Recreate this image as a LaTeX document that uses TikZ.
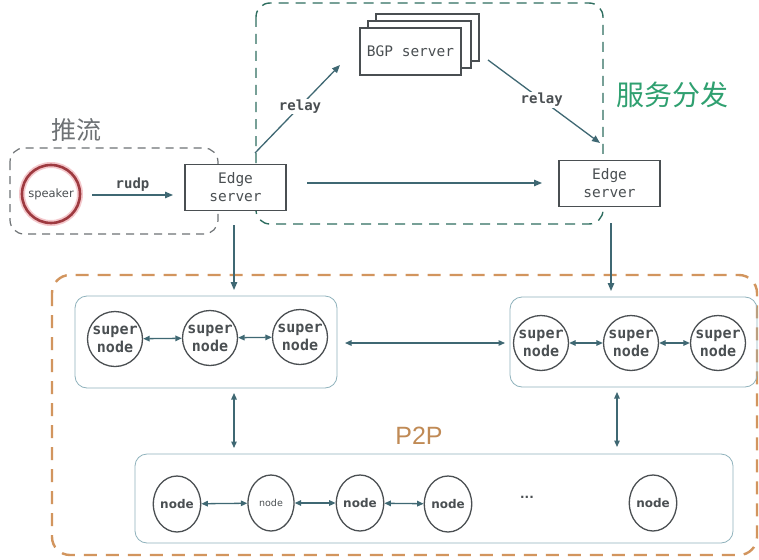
\documentclass[tikz,border=0pt]{standalone}
\usepackage{fontspec}
\setmainfont{DejaVu Sans}
\setmonofont{DejaVu Sans Mono}
\newfontfamily\cjk{Noto Sans CJK SC}
\newfontfamily\arialish{Liberation Sans}
\usetikzlibrary{arrows.meta,shapes.geometric}
\definecolor{dk}{HTML}{4A4F52}
\definecolor{ar}{HTML}{3F6873}
\definecolor{grp}{HTML}{8FB2BC}
\definecolor{grn}{HTML}{2F6E60}
\definecolor{org}{HTML}{D2955E}
\definecolor{p2pc}{HTML}{C08A55}
\definecolor{spk}{HTML}{9E3A40}
\definecolor{glow}{HTML}{F4C8CC}
\definecolor{cjkgreen}{HTML}{2FA070}
\begin{document}
\begin{tikzpicture}[x=1pt,y=-1pt,
  box/.style={draw=dk,line width=1.8pt,fill=white,minimum width=101pt,minimum height=46pt,inner sep=1pt,align=center,font=\ttfamily\fontsize{14.5}{18}\selectfont,text=dk},
  snode/.style={circle,draw=dk,line width=1.3pt,fill=white,minimum size=55pt,inner sep=0pt,align=center,font=\ttfamily\bfseries\fontsize{15}{18}\selectfont,text=dk},
  pnode/.style={ellipse,draw=dk,line width=1.3pt,fill=white,minimum width=46pt,minimum height=56pt,inner sep=0pt,font=\bfseries\fontsize{12}{14}\selectfont,text=dk},
  grpbox/.style={draw=grp,line width=0.8pt,rounded corners=12pt},
  arr/.style={draw=ar,line width=1.3pt,-{Triangle[length=8pt,width=6.5pt]}},
  darr/.style={draw=ar,line width=1.3pt,{Triangle[length=6.5pt,width=5.5pt]}-{Triangle[length=6.5pt,width=5.5pt]}},
  lbl/.style={font=\ttfamily\bfseries\fontsize{14}{16}\selectfont,text=dk}
]
\useasboundingbox (0,0) rectangle (759,559);
\fill[white] (0,0) rectangle (759,559);

% outer dashed areas
\draw[org,line width=2.4pt,dash pattern=on 13pt off 9pt,rounded corners=18pt] (52,275) rectangle (757,555);
\draw[grn,line width=1.4pt,dash pattern=on 10pt off 7pt,rounded corners=14pt] (256,3) rectangle (603,224);
\draw[dk!80,line width=1.2pt,dash pattern=on 8pt off 6pt,rounded corners=14pt] (10,148) rectangle (218,234);

% labels
\node[font=\cjk\fontsize{25}{28}\selectfont,text=dk!80] (tuiliu) at (76,130) {推流};
\node[font=\cjk\fontsize{28}{32}\selectfont,text=cjkgreen] (fuwu) at (672,95) {服务分发};
\node[font=\arialish\fontsize{25}{28}\selectfont,text=p2pc] (p2p) at (419,436) {P2P};

% speaker
\node[circle,draw=glow,line width=6pt,minimum size=58pt,inner sep=0pt] (spkglow) at (51,194) {};
\node[circle,draw=spk,line width=2.6pt,minimum size=58pt,inner sep=0pt,font=\fontsize{11.5}{13}\selectfont,text=dk] (spk) at (51,194) {speaker};

% edge servers
\node[box] (e1) at (235.5,187.5) {Edge\\server};
\node[box] (e2) at (609.5,183.5) {Edge\\server};

% BGP stack
\node[box,minimum height=47pt,minimum width=103pt] (b3) at (427.5,37.5) {};
\node[box,minimum height=47pt,minimum width=103pt] (b2) at (419.5,44.5) {};
\node[box,minimum height=47pt,minimum width=101pt] (bgp) at (410.5,51.5) {BGP server};

% group boxes
\draw[grpbox] (75,296) rectangle (337,388);
\draw[grpbox] (510,297) rectangle (757,387);
\draw[grpbox] (135,454) rectangle (733,543);

% super nodes
\node[snode] (s1) at (115,339) {super\\node};
\node[snode] (s2) at (210,338) {super\\node};
\node[snode] (s3) at (300,337) {super\\node};
\node[snode] (s4) at (541,343) {super\\node};
\node[snode] (s5) at (631,343) {super\\node};
\node[snode] (s6) at (718,343) {super\\node};

% p2p nodes
\node[pnode] (n1) at (177,504) {node};
\node[pnode,font=\fontsize{9.5}{11}\selectfont] (n2) at (271,503) {node};
\node[pnode] (n3) at (360,503) {node};
\node[pnode] (n4) at (448,504) {node};
\node[font=\bfseries\fontsize{12}{14}\selectfont,text=dk] (dots) at (527,497) {...};
\node[pnode] (n5) at (653,503) {node};

% coordinates for free-ended connectors
\coordinate (r1s) at (255,153);
\coordinate (r1e) at (340,65);
\coordinate (r2s) at (488,60);
\coordinate (r2e) at (600,143);
\coordinate (e1e2s) at (307,183);
\coordinate (e1e2e) at (542,183);
\coordinate (d1s) at (234,225);
\coordinate (d1e) at (234,290);
\coordinate (d2s) at (611,223);
\coordinate (d2e) at (611,291);
\coordinate (g1r) at (345,343);
\coordinate (g2l) at (505,343);
\coordinate (v1s) at (234,393);
\coordinate (v1e) at (234,448);
\coordinate (v2s) at (617,392);
\coordinate (v2e) at (617,447);
\coordinate (rudps) at (92,195);
\coordinate (rudpe) at (173,195);

% connectors
\draw[arr] (rudps) -- node[lbl,above=0pt,pos=0.5] (rudp) {rudp} (rudpe);
\draw[arr] (r1s) -- node[lbl,fill=white,inner sep=1pt,pos=0.53] (rl1) {relay} (r1e);
\draw[arr] (r2s) -- node[lbl,fill=white,inner sep=1pt,pos=0.48] (rl2) {relay} (r2e);
\draw[arr] (e1e2s) -- (e1e2e);
\draw[arr] (d1s) -- (d1e);
\draw[arr] (d2s) -- (d2e);
\draw[darr] (g1r) -- (g2l);
\draw[darr] (v1s) -- (v1e);
\draw[darr] (v2s) -- (v2e);
\draw[darr] (s1) -- (s2);
\draw[darr] (s2) -- (s3);
\draw[darr] (s4) -- (s5);
\draw[darr] (s5) -- (s6);
\draw[darr] (n1) -- (n2);
\draw[darr] (n2) -- (n3);
\draw[darr] (n3) -- (n4);
\end{tikzpicture}
\end{document}
